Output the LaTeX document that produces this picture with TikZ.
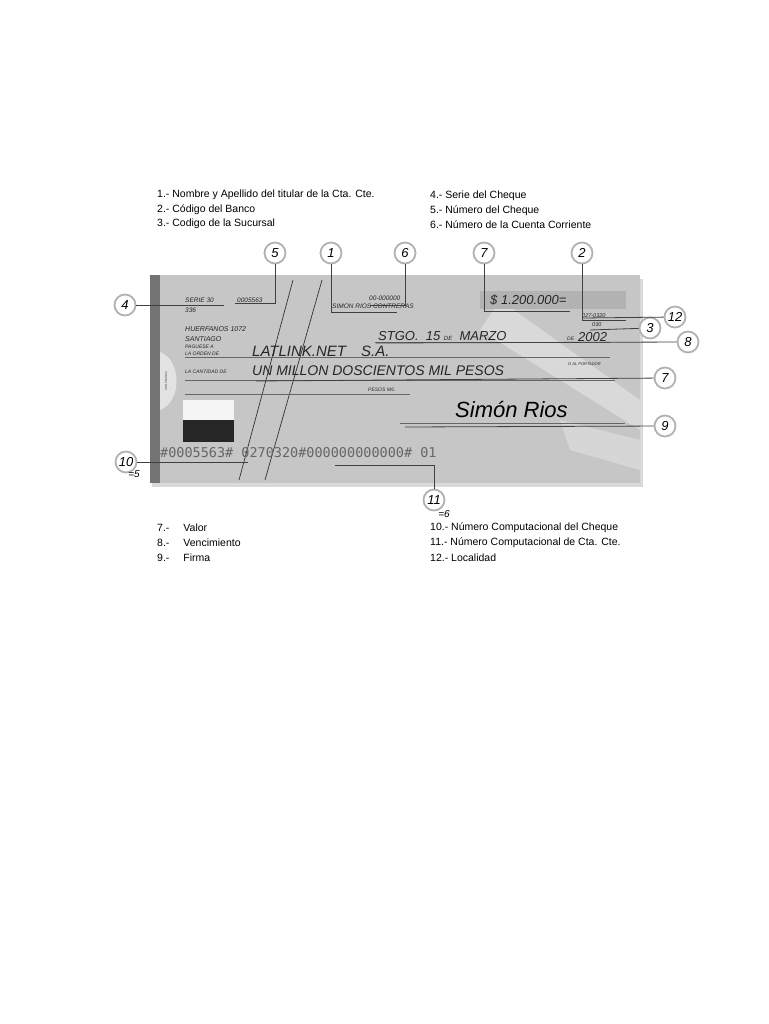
\documentclass[tikz,border=0pt]{standalone}
\usepackage{fontspec}
\setmainfont{Liberation Sans}
\newfontfamily\monof{DejaVu Sans Mono}
\begin{document}
\begin{tikzpicture}[x=1pt,y=-1pt,
  call/.style={circle,draw=gray!60,line width=1.8pt,fill=white,minimum size=21pt,inner sep=0pt,font=\fontsize{13}{13}\selectfont\itshape},
  lead/.style={draw=black!75,line width=0.8pt},
  leg/.style={anchor=west,font=\fontsize{10.5}{12}\selectfont,inner sep=0pt},
  ck/.style={anchor=west,inner sep=0pt,font=\fontsize{6.5}{7}\selectfont\itshape,text=black!85},
  hw/.style={anchor=west,inner sep=0pt,font=\fontsize{13}{13}\selectfont\itshape,text=black!85},
  rule/.style={draw=black!60,line width=0.6pt}]
\useasboundingbox (0,0) rectangle (768,1024);
\fill[white] (0,0) rectangle (768,1024);
% legend
\node[leg] (l1) at (157,195) {1.- Nombre y Apellido del titular de la Cta. Cte.};
\node[leg] (l2) at (157,210) {2.- Código del Banco};
\node[leg] (l3) at (157,224) {3.- Codigo de la Sucursal};
\node[leg] (l4) at (430,196) {4.- Serie del Cheque};
\node[leg] (l5) at (430,211) {5.- Número del Cheque};
\node[leg] (l6) at (430,225) {6.- Número de la Cuenta Corriente};
\node[leg] (l7) at (157,528) {7.-\hspace{14pt}Valor};
\node[leg] (l8) at (157,543) {8.-\hspace{14pt}Vencimiento};
\node[leg] (l9) at (157,558) {9.-\hspace{14pt}Firma};
\node[leg] (l10) at (430,528) {10.- Número Computacional del Cheque};
\node[leg] (l11) at (430,543) {11.- Número Computacional de Cta. Cte.};
\node[leg] (l12) at (430,558) {12.- Localidad};
% cheque body
\fill[black!15] (152,279) rectangle (643,487);
\fill[gray!45] (150,275) rectangle (640,483);
\fill[black!55] (150,275) rectangle (160,483);
\fill[gray!22] (160,352) .. controls (182,360) and (182,402) .. (160,410) -- cycle;
\node[rotate=90,font=\fontsize{3}{3}\selectfont,text=black!70] (cb) at (166,381) {CORPBANCA};
\fill[white!92!gray] (183,400) rectangle (234,420);
\fill[black!85] (183,420) rectangle (234,442);
\fill[gray!30] (500,300) -- (640,400) -- (640,430) -- (480,330) -- cycle;
\fill[gray!32] (560,420) -- (640,440) -- (640,470) -- (570,450) -- cycle;
\fill[gray!60] (480,291) rectangle (626,309);
% slanted lines
\draw[black!80,line width=0.7pt] (293,280) -- (239,480);
\draw[black!80,line width=0.7pt] (322,280) -- (265,480);
% cheque texts
\node[ck] (serie) at (185,300) {SERIE 30};
\node[ck] (num) at (237,300) {0005563};
\node[ck] (n336) at (185,310) {336};
\node[ck] (cta) at (369,298) {00-000000};
\node[ck] (nom) at (332,306) {SIMON RIOS CONTRERAS};
\node[ck,font=\fontsize{5.5}{6}\selectfont\itshape] (cod) at (582,316) {027-0320};
\node[ck,font=\fontsize{5.5}{6}\selectfont\itshape] (suc) at (592,325) {030};
\node[ck,font=\fontsize{7}{7}\selectfont\itshape] (dir) at (185,329) {HUERFANOS 1072};
\node[ck,font=\fontsize{7}{7}\selectfont\itshape] (stgo) at (185,339) {SANTIAGO};
\node[ck,font=\fontsize{5}{5}\selectfont\itshape] (pag) at (185,347) {PAGUESE A};
\node[ck,font=\fontsize{5}{5}\selectfont\itshape] (ord) at (185,354) {LA ORDEN DE};
\node[ck,font=\fontsize{5}{5}\selectfont\itshape] (cant) at (185,372) {LA CANTIDAD DE};
\node[ck,font=\fontsize{5}{5}\selectfont\itshape] (pesos) at (368,390) {PESOS M/L};
\node[ck,font=\fontsize{4}{4}\selectfont\itshape] (port) at (568,364) {O AL PORTADOR};
\node[ck,font=\fontsize{5}{5}\selectfont\itshape] (de) at (567,339) {DE};
\node[hw] (monto) at (490,300) {\$ 1.200.000=};
\node[hw] (fecha) at (378,336) {STGO.\ \ 15 {\fontsize{6}{6}\selectfont DE} \ MARZO};
\node[hw] (anio) at (578,337) {2002};
\node[hw,font=\fontsize{15}{15}\selectfont\itshape] (orden) at (252,351) {LATLINK.NET\quad S.A.};
\node[hw,font=\fontsize{14}{14}\selectfont\itshape] (palabras) at (252,371) {UN MILLON DOSCIENTOS MIL PESOS};
\node[hw,font=\fontsize{22}{22}\selectfont\itshape,text=black] (firma) at (455,410) {Simón Rios};
\node[anchor=west,inner sep=0pt,font=\monof\fontsize{13.5}{13.5}\selectfont,text=black!60] (micr) at (160,453) {\#0005563\# 0270320\#000000000000\# 01};
% rules
\draw[rule] (185,357) -- (610,357);
\draw[rule] (185,380) -- (615,380);
\draw[rule] (185,394) -- (410,394);
\draw[rule] (400,423) -- (625,423);
\draw[rule] (375,342) -- (610,342);
% callouts
\node[call] (c5) at (275,253) {5};
\node[call] (c1) at (331,253) {1};
\node[call] (c6) at (405,253) {6};
\node[call] (c7) at (484,253) {7};
\node[call] (c2) at (582,253) {2};
\node[call] (c12) at (675,317) {12};
\node[call] (c3) at (650,328) {3};
\node[call] (c8) at (688,342) {8};
\node[call] (c7b) at (665,378) {7};
\node[call] (c9) at (665,426) {9};
\node[call] (c4) at (125,305) {4};
\node[call] (c10) at (126,462) {10};
\node[call] (c11) at (434,500) {11};
\node[font=\fontsize{10}{10}\selectfont\itshape,inner sep=0pt] (e5) at (134,474) {=5};
\node[font=\fontsize{10}{10}\selectfont\itshape,inner sep=0pt] (e6) at (444,514) {=6};
\coordinate (p5) at (235,303);
\coordinate (p4) at (224,305);
\coordinate (p1) at (397,312);
\coordinate (p6) at (370,305);
\coordinate (p7) at (570,311);
\coordinate (p2) at (626,320);
\coordinate (p12) at (582,318);
\coordinate (p3) at (590,330);
\coordinate (p8) at (376,343);
\coordinate (p7b) at (256,381);
\coordinate (p9) at (405,427);
\coordinate (p10) at (248,462);
\coordinate (p11) at (335,465);
\draw[lead] (c5) |- (p5);
\draw[lead] (c4) -- (p4);
\draw[lead] (c1) |- (p1);
\draw[lead] (c6) |- (p6);
\draw[lead] (c7) |- (p7);
\draw[lead] (c2) |- (p2);
\draw[lead] (c12) -- (p12);
\draw[lead] (c3) -- (p3);
\draw[lead] (c8) -- (p8);
\draw[lead] (c7b) -- (p7b);
\draw[lead] (c9) -- (p9);
\draw[lead] (c10) -- (p10);
\draw[lead] (c11) |- (p11);
\end{tikzpicture}
\end{document}
